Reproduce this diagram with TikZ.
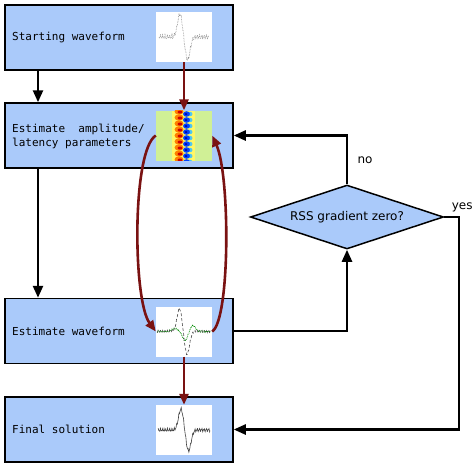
\documentclass[tikz,border=0pt]{standalone}
\usepackage{fontspec}
\setmonofont{DejaVu Sans Mono}
\setsansfont{DejaVu Sans}
\usetikzlibrary{shapes.geometric,arrows.meta,positioning}
\definecolor{boxblue}{RGB}{170,202,250}
\definecolor{darkred}{RGB}{122,18,18}
\definecolor{mapgreen}{RGB}{208,240,150}

\begin{document}
\begin{tikzpicture}[x=1pt,y=-1pt,
		stage/.style={draw,line width=1.5pt,fill=boxblue,minimum width=228pt,minimum height=65pt},
		thumb/.style={fill=white,inner sep=0pt,minimum width=56pt,minimum height=50pt},
		lbl/.style={anchor=west,align=left,inner sep=0pt,font=\ttfamily\fontsize{11}{14}\selectfont},
		tag/.style={font=\sffamily\fontsize{12}{14}\selectfont},
		flow/.style={line width=2.4pt,-{Triangle[length=12pt,width=10pt]}},
		redflow/.style={draw=darkred,line width=2.6pt,-{Triangle[length=11pt,width=9pt]}},
		declare function={spike(\t)=-exp(-((\t+4)/3.5)^2)+exp(-((\t-3.5)/3.5)^2); hiss(\t)=sin(157*\t)+0.6*sin(311*\t+40);}]
	\useasboundingbox (0,0) rectangle (474,467);
							\foreach \y [count=\n] in {37.5,135.5,331,429.5}
           						\node[stage] (B\n) at (119,\y) {};

           				\node[lbl] (T1) at (12,37.5) {Starting waveform};
           				\node[lbl] (T2) at (12,136) {Estimate\ \ amplitude/\\latency parameters};
           				\node[lbl] (T3) at (12,331) {Estimate waveform};
           				\node[lbl] (T4) at (12,429.5) {Final solution};

           				\node[thumb] (I1) at (184,37) {};
           				\node[thumb,fill=mapgreen] (I2) at (184,135.5) {};
           				\node[thumb] (I3) at (184,331.5) {};
           				\node[thumb] (I4) at (184,430) {};

           				\draw[gray,densely dotted,semithick,shift={(I1.center)}] plot[domain=-25:25,samples=151] (\x,{23*spike(\x)+1.5*hiss(\x)});
           				\begin{scope}[shift={(I2.center)}]
           					\clip (-28,-25) rectangle (28,25);
           					\fill[yellow!60!white] (-12,-25) rectangle (11,25);
           					\foreach \y in {-24,-18,...,24} {
           						\fill[orange] (-5,\y) ellipse (4.5 and 3.2);
           						\fill[red!80!black] (-4,\y+0.5) ellipse (2.5 and 1.5);
           						\fill[cyan!70] (6,\y+2.5) ellipse (2.5 and 2.2);
           						\fill[blue!75!cyan] (2.5,\y+2.5) ellipse (3.5 and 2.8);
           						\fill[blue!60!black] (2,\y+2.5) ellipse (1.5 and 1);
           					}
           				\end{scope}
           				\draw[green!55!black,densely dotted,thick,shift={(I3.center)}] plot[domain=-27:27,samples=121] (\x,{-3*exp(-((\x+9)/4)^2)+9*exp(-((\x-1)/3.5)^2)-6*exp(-((\x-9)/3.5)^2)+0.6*hiss(\x)});
           				\draw[black!70,densely dashed,semithick,shift={(I3.center)}] plot[domain=-27:27,samples=151] (\x,{23*spike(\x+0.5)+0.8*hiss(\x)});
           				\draw[black!75,semithick,shift={(I4.center)}] plot[domain=-26:26,samples=151] (\x,{21*spike(\x-1)+1.2*hiss(\x)});

           				\node[draw,line width=1.5pt,fill=boxblue,diamond,aspect=3,minimum width=193pt,minimum height=64pt,inner sep=0pt,tag] (D) at (347,217) {RSS gradient zero?};
           				\coordinate (Yturn) at (459,217);

           				\draw[flow] ([xshift=-81pt]B1.south) -- ([xshift=-81pt]B2.north);
           				\draw[flow] ([xshift=-81pt]B2.south) -- ([xshift=-81pt]B3.north);
           				\draw[flow] (D.north) |- node[tag,pos=0.25,right=6pt] (no) {no} (B2.east);
           				\draw[flow] (B3.east) -| (D.south);
           				\draw[flow] (D.east) -- (Yturn) |- (B4.east);
           				\node[tag,anchor=south west] (yes) at ([xshift=4pt,yshift=1pt]D.east) {yes};

           				\draw[redflow] (I1.south) -- (I2.north);
           				\draw[redflow] (I3.south) -- (I4.north);
           				\draw[redflow] (I2.west) .. controls +(-24,15) and +(-23,-31) .. (I3.west);
           				\draw[redflow] (I3.east) .. controls +(18,-12) and +(18,40) .. (I2.east);
           				\end{tikzpicture}
\end{document}
